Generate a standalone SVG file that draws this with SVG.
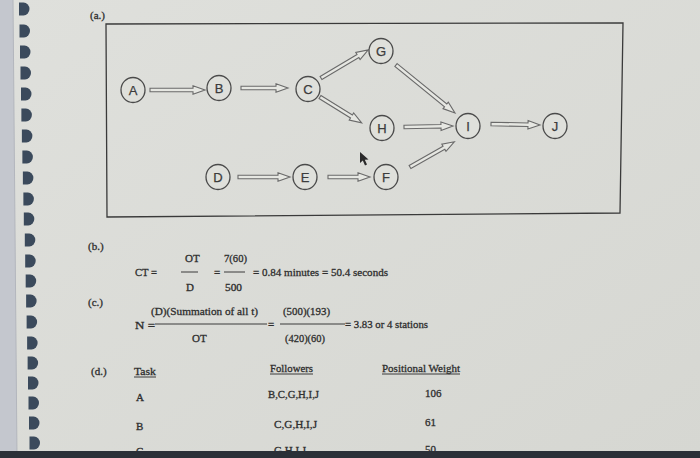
<svg xmlns="http://www.w3.org/2000/svg" width="700" height="458" viewBox="0 0 700 458">
<style>
.node ellipse{fill:#dfe0db;stroke:#4a4a4a;stroke-width:1.3}
.node text{font-family:"Liberation Sans",Arial,sans-serif;font-size:13px;fill:#3c3c3c;stroke:#3c3c3c;stroke-width:0.25;text-anchor:middle}
.arr{fill:#e6e7e2;stroke:#6a6a6a;stroke-width:1.1;stroke-linejoin:miter}
.t{font-family:"Liberation Serif","Times New Roman",serif;font-size:11px;fill:#2e2e2e;stroke:#2e2e2e;stroke-width:0.3}
.s{font-size:10px}
.ln{stroke:#3a3a3a;stroke-width:1}
.hole{fill:#3b4a5c}
</style>
<defs>
<path id="hole" d="M0,-6.5 H4.5 A6,6.5 0 0 1 4.5,6.5 H0 Z"/>
<linearGradient id="bg" x1="0" y1="0" x2="1" y2="1">
<stop offset="0" stop-color="#dfe0dc"/>
<stop offset="1" stop-color="#d6d7d2"/>
</linearGradient>
</defs>
<rect x="0" y="0" width="700" height="458" fill="url(#bg)"/>
<polygon points="0,0 13,0 17,458 0,458" fill="#c4c7ce"/>
<line x1="13" y1="0" x2="17" y2="458" stroke="#b3b6bd" stroke-width="1"/>
<g id="holes" class="hole">
<use href="#hole" x="19" y="9"/><use href="#hole" x="19.5" y="31"/><use href="#hole" x="20" y="52"/>
<use href="#hole" x="20.5" y="73"/><use href="#hole" x="21" y="94"/><use href="#hole" x="21.4" y="115"/>
<use href="#hole" x="21.9" y="136"/><use href="#hole" x="22.4" y="157"/><use href="#hole" x="22.9" y="178"/>
<use href="#hole" x="23.4" y="199"/><use href="#hole" x="23.8" y="219"/><use href="#hole" x="24.8" y="240"/>
<use href="#hole" x="25.2" y="261"/><use href="#hole" x="25.7" y="281"/><use href="#hole" x="26.1" y="301"/>
<use href="#hole" x="26.6" y="322"/><use href="#hole" x="27.1" y="343"/><use href="#hole" x="27.6" y="363"/>
<use href="#hole" x="28" y="383"/><use href="#hole" x="28.5" y="403"/><use href="#hole" x="29" y="423"/>
<use href="#hole" x="29.5" y="443"/>
</g>

<text class="t" x="90" y="19">(a.)</text>
<polygon points="106,24 623,23 620,213 107,217" fill="none" stroke="#3a3a3a" stroke-width="1.3"/>

<g id="connectors">
<path class="arr" transform="translate(150,90)" d="M0,-1.8 H43 V-4.2 L55,0 L43,4.2 V1.8 H0 Z"/>
<path class="arr" transform="translate(241,88)" d="M0,-1.8 H35 V-4.2 L47,0 L35,4.2 V1.8 H0 Z"/>
<path class="arr" transform="translate(321,78) rotate(-30.8)" d="M0,-1.8 H43 V-4.2 L55,0 L43,4.2 V1.8 H0 Z"/>
<path class="arr" transform="translate(320,97) rotate(31.8)" d="M0,-1.8 H37 V-4.2 L49,0 L37,4.2 V1.8 H0 Z"/>
<path class="arr" transform="translate(396,65) rotate(39.1)" d="M0,-1.8 H64 V-4.2 L76,0 L64,4.2 V1.8 H0 Z"/>
<path class="arr" transform="translate(404,127) rotate(-1.2)" d="M0,-1.8 H37 V-4.2 L49,0 L37,4.2 V1.8 H0 Z"/>
<path class="arr" transform="translate(491,124) rotate(1.2)" d="M0,-1.8 H37 V-4.2 L49,0 L37,4.2 V1.8 H0 Z"/>
<path class="arr" transform="translate(238,177)" d="M0,-1.8 H40 V-4.2 L52,0 L40,4.2 V1.8 H0 Z"/>
<path class="arr" transform="translate(328,177)" d="M0,-1.8 H30 V-4.2 L42,0 L30,4.2 V1.8 H0 Z"/>
<path class="arr" transform="translate(410,167) rotate(-29.6)" d="M0,-1.8 H39 V-4.2 L51,0 L39,4.2 V1.8 H0 Z"/>
</g>

<g id="A" class="node"><ellipse cx="133" cy="90" rx="12" ry="12.5"/><text x="133" y="95">A</text></g>
<g id="B" class="node"><ellipse cx="219" cy="88" rx="12" ry="12.5"/><text x="219" y="93">B</text></g>
<g id="C" class="node"><ellipse cx="308" cy="89" rx="12" ry="12.5"/><text x="308" y="94">C</text></g>
<g id="G" class="node"><ellipse cx="381" cy="51" rx="12" ry="12.5"/><text x="381" y="56">G</text></g>
<g id="H" class="node"><ellipse cx="382" cy="128" rx="12" ry="12.5"/><text x="382" y="133">H</text></g>
<g id="I" class="node"><ellipse cx="468" cy="126" rx="12" ry="12.5"/><text x="468" y="131">I</text></g>
<g id="J" class="node"><ellipse cx="555" cy="126" rx="12" ry="12.5"/><text x="555" y="131">J</text></g>
<g id="D" class="node"><ellipse cx="218" cy="177" rx="12" ry="12.5"/><text x="218" y="182">D</text></g>
<g id="E" class="node"><ellipse cx="305" cy="177" rx="12" ry="12.5"/><text x="305" y="182">E</text></g>
<g id="F" class="node"><ellipse cx="386" cy="177" rx="12" ry="12.5"/><text x="386" y="182">F</text></g>

<polygon points="360,152 360,163 362.8,160.5 365,165.5 367,164.6 364.8,159.7 368.5,159.5 Z" fill="#2a2a2a"/>

<text class="t" x="88" y="250">(b.)</text>
<text class="t" x="135" y="276" textLength="22" lengthAdjust="spacingAndGlyphs">CT =</text>
<text class="t" x="185" y="262">OT</text>
<line class="ln" x1="181" y1="272" x2="198" y2="272"/>
<text class="t" x="186" y="291">D</text>
<text class="t" x="214" y="276">=</text>
<text class="t" x="224" y="262" textLength="23" lengthAdjust="spacingAndGlyphs">7(60)</text>
<line class="ln" x1="224" y1="272" x2="245" y2="272"/>
<text class="t s" x="225" y="291" textLength="17" lengthAdjust="spacingAndGlyphs">500</text>
<text class="t" x="253" y="276" textLength="135" lengthAdjust="spacingAndGlyphs">= 0.84 minutes = 50.4 seconds</text>

<text class="t" x="88" y="306">(c.)</text>
<text class="t" x="135" y="329" textLength="20" lengthAdjust="spacingAndGlyphs">N =</text>
<text class="t" x="151" y="315" textLength="107" lengthAdjust="spacingAndGlyphs">(D)(Summation of all t)</text>
<line class="ln" x1="155" y1="324" x2="267" y2="324"/>
<text class="t" x="192" y="342">OT</text>
<text class="t" x="268" y="328">=</text>
<text class="t" x="283" y="315" textLength="47" lengthAdjust="spacingAndGlyphs">(500)(193)</text>
<line class="ln" x1="280" y1="324" x2="345" y2="324"/>
<text class="t" x="285" y="342" textLength="40" lengthAdjust="spacingAndGlyphs">(420)(60)</text>
<text class="t" x="345" y="328" textLength="83" lengthAdjust="spacingAndGlyphs">= 3.83 or 4 stations</text>

<text class="t" x="91" y="375">(d.)</text>
<text class="t" x="134" y="375" textLength="22" lengthAdjust="spacingAndGlyphs">Task</text>
<line class="ln" x1="134" y1="377" x2="156" y2="377"/>
<text class="t" x="270" y="372" textLength="43" lengthAdjust="spacingAndGlyphs">Followers</text>
<line class="ln" x1="270" y1="374" x2="313" y2="374"/>
<text class="t" x="382" y="372" textLength="78" lengthAdjust="spacingAndGlyphs">Positional Weight</text>
<line class="ln" x1="382" y1="374" x2="460" y2="374"/>
<text class="t" x="136" y="401">A</text>
<text class="t" x="268" y="398" textLength="51" lengthAdjust="spacingAndGlyphs">B,C,G,H,I,J</text>
<text class="t" x="425" y="397">106</text>
<text class="t" x="136" y="430">B</text>
<text class="t" x="274" y="428" textLength="43" lengthAdjust="spacingAndGlyphs">C,G,H,I,J</text>
<text class="t" x="425" y="426">61</text>
<text class="t" x="136" y="455">C</text>
<text class="t" x="274" y="454">G,H,I,J</text>
<text class="t" x="425" y="453">50</text>

<rect x="0" y="451" width="700" height="7" fill="#2b3038"/>
</svg>
